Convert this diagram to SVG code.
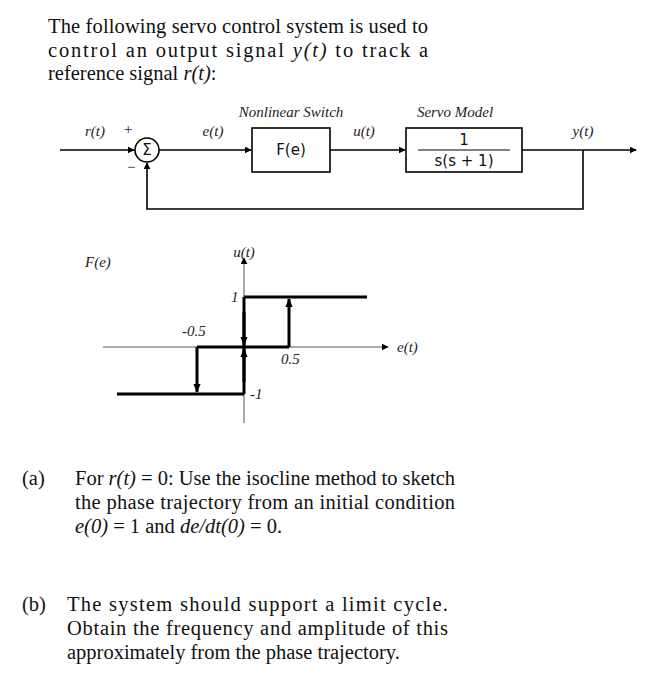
<svg xmlns="http://www.w3.org/2000/svg" width="662" height="700" viewBox="0 0 662 700">
<defs>
<marker id="ah" viewBox="0 0 10 10" refX="9" refY="5" markerWidth="7" markerHeight="7" markerUnits="userSpaceOnUse" orient="auto"><path d="M0,0L10,5L0,10z" fill="#000"/></marker>
<marker id="ah2" viewBox="0 0 10 10" refX="9" refY="5" markerWidth="9" markerHeight="9" markerUnits="userSpaceOnUse" orient="auto"><path d="M0,1L10,5L0,9z" fill="#000"/></marker>
</defs>
<style>
.t{font-family:"Liberation Serif",serif;font-size:20.5px;fill:#111}
.i{font-family:"Liberation Serif",serif;font-style:italic;font-size:15px;fill:#222}
.m{font-family:"DejaVu Sans",sans-serif;font-size:15px;fill:#111}
.ln{stroke:#000;stroke-width:1.6;fill:none}
.thk{stroke:#000;stroke-width:3;fill:none}
.ax{stroke:#555;stroke-width:1;fill:none}
</style>
<rect width="662" height="700" fill="#fff"/>
<g id="intro">
<text class="t" x="48" y="33" textLength="380" lengthAdjust="spacing">The following servo control system is used to</text>
<text class="t" x="48" y="57" textLength="380" lengthAdjust="spacing">control an output signal <tspan font-style="italic">y(t)</tspan> to track a</text>
<text class="t" x="48" y="80">reference signal <tspan font-style="italic">r(t)</tspan>:</text>
</g>
<g id="connectors">
<line class="ln" x1="60" y1="150" x2="134" y2="150" marker-end="url(#ah)"/>
<line class="ln" x1="159" y1="150" x2="251" y2="150" marker-end="url(#ah)"/>
<line class="ln" x1="330" y1="150" x2="405" y2="150" marker-end="url(#ah)"/>
<line class="ln" x1="522" y1="150" x2="636" y2="150" marker-end="url(#ah)"/>
<polyline class="ln" points="583,150 583,209 147,209 147,163" marker-end="url(#ah)"/>
</g>
<g id="sum">
<circle class="ln" cx="147" cy="150" r="12"/>
<text class="m" x="147" y="155" text-anchor="middle" font-size="14">Σ</text>
<text class="i" x="128" y="134" text-anchor="middle">+</text>
<text class="i" x="131" y="172" text-anchor="middle">−</text>
</g>
<g id="switch">
<rect class="ln" x="252" y="128" width="78" height="44"/>
<text class="m" x="291" y="155" text-anchor="middle">F(e)</text>
<text class="i" x="291" y="117" text-anchor="middle" font-size="16">Nonlinear Switch</text>
</g>
<g id="servo">
<rect class="ln" x="406" y="128" width="116" height="44"/>
<text class="m" x="464" y="145" text-anchor="middle" font-size="14">1</text>
<line x1="418" y1="150" x2="510" y2="150" stroke="#000" stroke-width="1"/>
<text class="m" x="464" y="166" text-anchor="middle" font-size="14">s(s + 1)</text>
<text class="i" x="455" y="117" text-anchor="middle" font-size="16">Servo Model</text>
</g>
<g id="labels">
<text class="i" x="95" y="136" text-anchor="middle">r(t)</text>
<text class="i" x="213" y="136" text-anchor="middle">e(t)</text>
<text class="i" x="364" y="136" text-anchor="middle">u(t)</text>
<text class="i" x="583" y="136" text-anchor="middle">y(t)</text>
</g>
<g id="plot">
<text class="i" x="85" y="267" font-size="14">F(e)</text>
<line class="ax" x1="244" y1="423" x2="244" y2="258" marker-end="url(#ah)"/>
<line class="ax" x1="103" y1="347" x2="388" y2="347" marker-end="url(#ah)"/>
<polyline class="thk" points="244,297 367,297"/>
<polyline class="thk" points="117,394 244,394"/>
<polyline class="thk" points="197,347 289,347"/>
<line class="thk" x1="244" y1="297" x2="244" y2="394"/>
<line class="thk" x1="244" y1="312" x2="244" y2="345" marker-end="url(#ah2)"/>
<line class="thk" x1="244" y1="382" x2="244" y2="349" marker-end="url(#ah2)"/>
<line class="thk" x1="289" y1="347" x2="289" y2="299" marker-end="url(#ah2)"/>
<line class="thk" x1="197" y1="347" x2="197" y2="392" marker-end="url(#ah2)"/>
<text class="i" x="244" y="257" text-anchor="middle" font-size="12">u(t)</text>
<text class="i" x="231" y="302" font-size="12">1</text>
<text class="i" x="182" y="336" font-size="12">-0.5</text>
<text class="i" x="281" y="364" font-size="12">0.5</text>
<text class="i" x="250" y="399" font-size="12">-1</text>
<text class="i" x="397" y="352" font-size="12">e(t)</text>
</g>
<g id="questions">
<text class="t" x="22" y="485">(a)</text>
<text class="t" x="75" y="485" textLength="380" lengthAdjust="spacing">For <tspan font-style="italic">r(t)</tspan> = 0: Use the isocline method to sketch</text>
<text class="t" x="75" y="509" textLength="380" lengthAdjust="spacing">the phase trajectory from an initial condition</text>
<text class="t" x="75" y="533"><tspan font-style="italic">e(0)</tspan> = 1 and <tspan font-style="italic">de/dt(0)</tspan> = 0.</text>
<text class="t" x="22" y="611">(b)</text>
<text class="t" x="67" y="611" textLength="381" lengthAdjust="spacing">The system should support a limit cycle.</text>
<text class="t" x="67" y="635" textLength="381" lengthAdjust="spacing">Obtain the frequency and amplitude of this</text>
<text class="t" x="67" y="659">approximately from the phase trajectory.</text>
</g>
</svg>
